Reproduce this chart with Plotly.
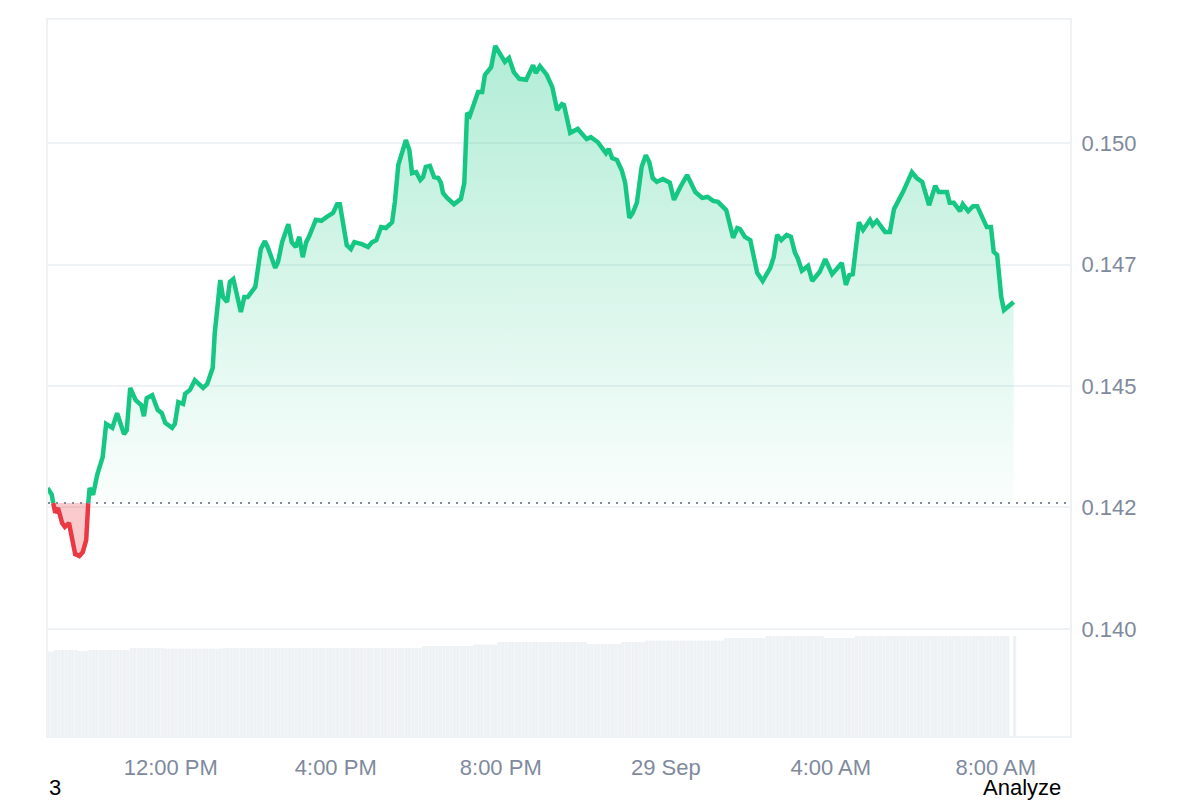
import pandas as pd
import plotly.graph_objects as go

# Minutes after 09:00 on 28 Sep
minutes = [1,7,9,12,16,22,26,32,41,47,52,57,60,62,67,73,81,86,95,102,112,116,121,129,137,141,145,153,161,167,172,
182,186,191,198,201,208,215,227,233,241,244,252,256,262,266,271,282,287,292,303,311,317,321,332,336,342,351,356,362,367,372,377,381,
391,399,407,416,422,426,436,442,447,458,467,473,479,486,493,502,506,511,522,527,531,537,543,547,551,557,563,569,573,576,582,592,602,607,
611,615,627,633,637,646,652,666,672,679,687,697,707,711,717,727,735,742,749,752,761,772,785,791,801,813,817,822,829,836,841,847,852,858,
865,871,876,881,887,896,906,912,921,931,943,953,961,969,976,988,998,1004,1008,1015,1023,1033,1041,1052,1057,1062,1068,1076,1082,1088,1092,
1098,1107,1113,1124,1132,1142,1156,1162,1167,1172,1181,1187,1197,1201,1207,1219,1226,1232,1245,1258,1265,1273,1277,1283,1292,1297,1309,
1313,1319,1328,1332,1340,1347,1353,1367,1373,1377,1382,1388,1392,1406]
prices = [0.14290,0.14276,0.14259,0.14239,0.14249,0.14218,0.14210,0.14218,0.14154,0.14150,0.14158,0.14183,0.14259,0.14290,0.14276,0.14317,
0.14354,0.14422,0.14414,0.14444,0.14401,0.14409,0.14496,0.14471,0.14461,0.14438,0.14475,0.14481,0.14451,0.14444,0.14424,
0.14414,0.14422,0.14467,0.14463,0.14484,0.14492,0.14512,0.14496,0.14504,0.14537,0.14609,0.14718,0.14683,0.14673,0.14714,0.14720,0.14652,
0.14683,0.14683,0.14704,0.14782,0.14798,0.14786,0.14743,0.14755,0.14796,0.14833,0.14796,0.14786,0.14807,0.14765,0.14796,0.14807,
0.14842,0.14840,0.14848,0.14856,0.14874,0.14874,0.14790,0.14782,0.14796,0.14792,0.14786,0.14796,0.14800,0.14827,0.14825,0.14837,0.14879,
0.14955,0.15006,0.14986,0.14938,0.14940,0.14924,0.14930,0.14951,0.14953,0.14930,0.14928,0.14918,0.14897,0.14887,0.14874,0.14885,0.14918,
0.15062,0.15056,0.15105,0.15105,0.15140,0.15156,0.15200,0.15167,0.15175,0.15146,0.15132,0.15130,0.15160,0.15144,0.15158,0.15140,0.15115,
0.15068,0.15080,0.15078,0.15021,0.15029,0.15008,0.15012,0.15002,0.14979,0.14988,0.14969,0.14965,0.14944,0.14918,0.14846,0.14856,0.14877,
0.14951,0.14975,0.14961,0.14928,0.14920,0.14926,0.14918,0.14883,0.14909,0.14934,0.14899,0.14887,0.14889,0.14881,0.14879,0.14862,0.14805,
0.14825,0.14823,0.14807,0.14800,0.14733,0.14716,0.14743,0.14765,0.14811,0.14800,0.14811,0.14807,0.14774,0.14763,
0.14737,0.14747,0.14716,0.14735,0.14761,0.14730,0.14753,0.14708,0.14728,0.14730,0.14837,0.14821,0.14842,0.14831,0.14840,0.14817,0.14817,
0.14864,0.14899,0.14940,0.14928,0.14920,0.14903,0.14872,0.14912,0.14899,0.14899,
0.14877,0.14877,0.14860,0.14874,0.14860,0.14870,0.14870,0.14827,0.14827,0.14776,0.14770,0.14683,0.14656,0.14673]
baseline_price = 0.14259

volumes = [84.5,84.5,86,86,86,86,86,86,86,85,85,85,
86,86,86,86,86,86,86,86,86,86,86,86,88,88,88,88,88,88,88,88,88,88,
87.5,87.5,87.5,87.5,87.5,87.5,87.5,87.5,87.5,87.5,87.5,87.5,87.5,87.5,87.5,87.5,87.5,
88,88,88,88,88,88,88,88,88,88,88,88,88,88,88,88,88,88,88,88,88,88,88,88,88,88,88,88,88,
88,88,88,88,88,88,88,88,88,88,88,88,88,88,88,88,88,88,88,88,88,88,88,88,88,88,88,88,88,
90,90,90,90,90,90,90,90,90,90,90,90,90,90,90,91.5,91.5,91.5,91.5,91.5,91.5,91.5,
94,94,94,94,94,94,94,94,94,94,94,94,94,94,94,94,94,94,94,94,94,94,94,94,94,94,
92,92,92,92,92,92,92,92,92,92,94,94,94,94,94,94,94,
95.5,95.5,95.5,95.5,95.5,95.5,95.5,95.5,95.5,95.5,95.5,95.5,95.5,95.5,95.5,95.5,95.5,95.5,95.5,95.5,95.5,95.5,95.5,
98,98,98,98,98,98,98,98,98,98,98,98,100,100,100,100,100,100,100,100,100,100,100,100,100,100,100,100,100,
98,98,98,98,98,98,98,98,98,
100,100,100,100,100,100,100,100,100,100,100,100,100,100,100,100,100,100,100,100,100,100,100,100,100,
100,100,100,100,100,100,100,100,100,100,100,100,100,100,100,100,100,100,100,100,0,100]

price_ticks = [0.140, 0.1425, 0.145, 0.1475, 0.150]
price_labels = ["0.140", "0.142", "0.145", "0.147", "0.150"]
time_ticks = ["2024-09-28 12:00", "2024-09-28 16:00", "2024-09-28 20:00", "2024-09-29 00:00", "2024-09-29 04:00", "2024-09-29 08:00"]
time_labels = ["12:00 PM", "4:00 PM", "8:00 PM", "29 Sep", "4:00 AM", "8:00 AM"]

GREEN, RED = "#16c784", "#ea3943"
GREY, LINE = "#808a9d", "#eff2f5"
FONT = "Liberation Sans, Arial, sans-serif"

start = pd.Timestamp("2024-09-28 09:00")
times = [start + pd.Timedelta(minutes=m) for m in minutes]
bar_times = [start + pd.Timedelta(minutes=2.5 + 5 * i) for i in range(len(volumes))]

# Split the series where it crosses the baseline (the crossings are in the data)
cross = [i for i, p in enumerate(prices) if p == baseline_price]
segments = [(0, cross[0], GREEN), (cross[0], cross[1], RED), (cross[1], len(prices) - 1, GREEN)]

fig = go.Figure()
fig.add_bar(x=bar_times, y=volumes, marker=dict(color="#eef2f5", line_width=0), yaxis="y", hoverinfo="skip")

for a, b, col in segments:
    xs, ys = times[a:b + 1], prices[a:b + 1]
    fig.add_scatter(x=[xs[0], xs[-1]], y=[baseline_price, baseline_price], mode="lines",
                    line=dict(width=0), yaxis="y2", hoverinfo="skip")
    if col == GREEN:
        grad = dict(type="vertical", start=baseline_price, stop=0.1520,
                    colorscale=[[0, "rgba(22,199,132,0.02)"], [1, "rgba(22,199,132,0.33)"]])
    else:
        grad = dict(type="vertical", start=0.1415, stop=baseline_price,
                    colorscale=[[0, "rgba(234,57,67,0.27)"], [1, "rgba(234,57,67,0.27)"]])
    fig.add_scatter(x=xs, y=ys, mode="lines", line=dict(color=col, width=4.5, shape="linear"),
                    fill="tonexty", fillgradient=grad, yaxis="y2")

fig.add_shape(type="line", xref="paper", x0=0, x1=1, yref="y2", y0=baseline_price, y1=baseline_price,
              line=dict(color=GREY, width=2, dash="2px,6px"))

fig.add_annotation(text="3", xref="paper", yref="paper", x=0, y=-0.0725, xanchor="left", yanchor="middle",
                   showarrow=False, font=dict(size=22, color="#000000", family=FONT), xshift=-1)
fig.add_annotation(text="Analyze", xref="paper", yref="paper", x=0.992, y=-0.0725, xanchor="right", yanchor="middle",
                   showarrow=False, font=dict(size=22, color="#000000", family=FONT), xshift=1)

fig.update_layout(
    width=1200, height=800, showlegend=False, paper_bgcolor="white", plot_bgcolor="white",
    margin=dict(l=48, r=130, t=20, b=64), bargap=0.05, font=dict(family=FONT),
    xaxis=dict(type="date", range=[start + pd.Timedelta(minutes=1.45), start + pd.Timedelta(minutes=1488)],
               tickvals=time_ticks, ticktext=time_labels, showgrid=False, zeroline=False, showline=True,
               mirror=True, linecolor=LINE, linewidth=2, ticks="outside", ticklen=11,
               tickcolor="rgba(0,0,0,0)", tickfont=dict(size=22, color=GREY, family=FONT)),
    yaxis=dict(range=[0, 716], visible=False, fixedrange=True),
    yaxis2=dict(overlaying="y", side="right", anchor="x", range=[0.137798, 0.152531], tickvals=price_ticks,
                ticktext=price_labels, showgrid=True, gridcolor=LINE, gridwidth=2, zeroline=False,
                showline=True, mirror=True, linecolor=LINE, linewidth=2, ticks="outside", ticklen=5,
                tickcolor="rgba(0,0,0,0)", tickfont=dict(size=22, color=GREY, family=FONT)),
)

fig.write_html("out.html", config={"displayModeBar": False}, post_script="document.body.style.margin='0';")
